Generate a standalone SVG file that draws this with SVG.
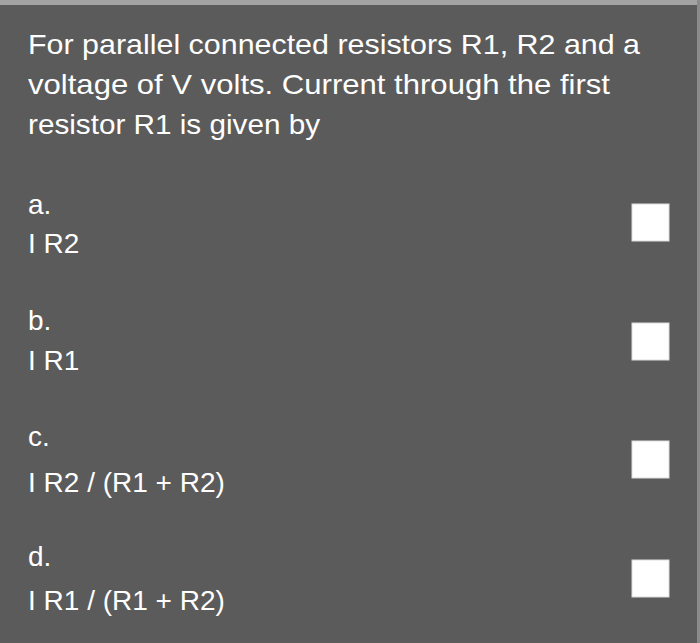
<svg xmlns="http://www.w3.org/2000/svg" width="700" height="643" viewBox="0 0 700 643">
<style>
text{font-family:"Liberation Sans",Arial,sans-serif;font-size:28px;fill:#fff}
.cb{fill:#fff;stroke:#ddd;stroke-width:1}
</style>
<rect width="700" height="643" fill="#5b5b5b"/>
<rect width="700" height="5" fill="#a3a3a3"/>
<rect x="697" y="0" width="3" height="643" fill="#8a8a8a"/>
<g id="question">
<text x="28" y="54" textLength="612" lengthAdjust="spacingAndGlyphs">For parallel connected resistors R1, R2 and a</text>
<text x="28" y="94" textLength="582" lengthAdjust="spacingAndGlyphs">voltage of V volts. Current through the first</text>
<text x="28" y="134" textLength="292" lengthAdjust="spacingAndGlyphs">resistor R1 is given by</text>
</g>
<g id="opt-a"><text x="28" y="214">a.</text><text x="28" y="253">I R2</text><rect class="cb" x="632" y="204" width="37" height="37"/></g>
<g id="opt-b"><text x="28" y="330">b.</text><text x="28" y="370">I R1</text><rect class="cb" x="632" y="323" width="37" height="37"/></g>
<g id="opt-c"><text x="28" y="446">c.</text><text x="28" y="492">I R2 / (R1 + R2)</text><rect class="cb" x="632" y="441" width="37" height="37"/></g>
<g id="opt-d"><text x="28" y="566">d.</text><text x="28" y="610">I R1 / (R1 + R2)</text><rect class="cb" x="632" y="560" width="37" height="37"/></g>
</svg>
